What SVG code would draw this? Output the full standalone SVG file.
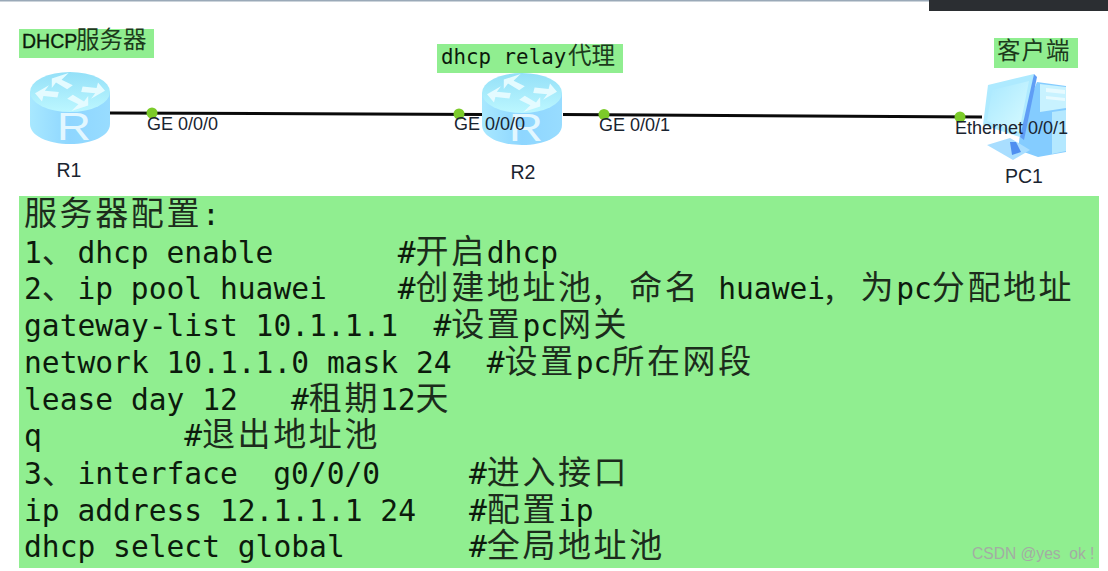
<svg xmlns="http://www.w3.org/2000/svg" width="1108" height="571" viewBox="0 0 1108 571">
<style>
.bg{fill:#90ee90}
text{white-space:pre}
.m{font-family:"DejaVu Sans Mono","Liberation Mono",monospace;font-size:29.6px;fill:#0c1a0c}
.c{font-family:"Noto Sans CJK SC","Noto Sans CJK TC",sans-serif;font-size:33px;letter-spacing:2.6px;fill:#1c2c1c}
.m2{font-family:"DejaVu Sans Mono","Liberation Mono",monospace;font-size:20.8px;fill:#0c1a0c}
.c2{font-family:"Noto Sans CJK SC",sans-serif;font-size:23.5px;fill:#1c3a1c}
.s2{font-family:"Liberation Sans",Arial,sans-serif;font-size:19.5px;fill:#0c1a0c;stroke:#0c1a0c;stroke-width:.3}
.port{font-family:"Liberation Sans",Arial,sans-serif;font-size:18px;fill:#1a2430}
.name{font-family:"Liberation Sans",Arial,sans-serif;font-size:19.5px;fill:#1a2430;text-anchor:middle}
.dot{fill:#7ccb2a}
.link{stroke:#0a0a0a;stroke-width:3;fill:none}
.rl{font-family:"Liberation Sans",Arial,sans-serif;font-size:38px;fill:#e2f7ff;text-anchor:middle}
.wm{font-family:"Liberation Sans",Arial,sans-serif;font-size:15.6px;fill:#a3aca3}
</style>
<defs>
<linearGradient id="body" x1="0" y1="0" x2="1" y2="0">
<stop offset="0" stop-color="#a8e8ff"/><stop offset="0.5" stop-color="#8ed6ff"/><stop offset="1" stop-color="#98dcff"/>
</linearGradient>
<linearGradient id="top" x1="0" y1="0" x2="0" y2="1">
<stop offset="0" stop-color="#94e0f8"/><stop offset="1" stop-color="#bcf7ff"/>
</linearGradient>
<linearGradient id="scr" x1="0" y1="0" x2="1" y2="1">
<stop offset="0" stop-color="#a8e8ff"/><stop offset="1" stop-color="#d8fbff"/>
</linearGradient>
<g id="router">
<path d="M0 20V52C0 64 18 72 40 72S80 64 80 52V20Z" fill="url(#body)"/>
<ellipse cx="40" cy="20" rx="40" ry="20" fill="url(#top)"/>
<g fill="#e4fbff" transform="translate(40 20) scale(1.4 1.35) translate(-40 -20)">
<path d="M27 10L39 6L34 11L42 15L38 18L30 13L27 17Z"/>
<path d="M53 30L41 34L46 29L38 25L42 22L50 27L53 23Z"/>
<path d="M15 21L20 27L21 23L31 24L32 20L22 19L25 15Z"/>
<path d="M65 19L60 13L59 17L49 16L48 20L58 21L55 25Z"/>
</g>
</g>
</defs>

<rect width="1108" height="571" fill="#ffffff"/>
<rect width="929" height="1.5" fill="#9aa9b8"/>
<rect x="929" width="179" height="11" fill="#2b2e32"/>

<g id="connectors">
<path class="link" d="M110 113L482 114.5"/>
<path class="link" d="M563 114.5L982 117"/>
</g>

<g id="R1">
<use href="#router" x="30" y="72"/>
<text class="rl" transform="translate(74 140) scale(1.25 1)">R</text>
<text class="name" x="69" y="177">R1</text>
</g>
<g id="R2">
<use href="#router" x="482" y="73"/>
<text class="rl" transform="translate(526 141) scale(1.25 1)">R</text>
<text class="name" x="523" y="179">R2</text>
</g>
<g id="PC1">
<path d="M1037 82L1066 86V152L1038 157L1018 150L1022 118Z" fill="#84ccff"/>
<path d="M1040 84L1066 87V108L1040 112Z" fill="#c8f2ff"/>
<path d="M1052 112L1066 110V151L1052 154Z" fill="#b4e8ff"/>
<path d="M1046 88L1065 90V94L1046 92ZM1046 96L1065 98V101L1046 99Z" fill="#e6faff"/>
<path d="M987 145L1010 138L1030 150L1013 160Z" fill="#a9deff"/>
<path d="M1010 142L1016 142L1021 152L1012 155Z" fill="#4f8ff0"/>
<path d="M988 85L1034 74L1028 115L1023 138L983 125Z" fill="#aeeaff"/>
<path d="M992 90L1029 81L1019 132L987 121Z" fill="url(#scr)"/>
<path d="M1034 74L1037 77L1024 140L1020 137Z" fill="#5f9df5"/>
<text class="name" x="1024" y="183">PC1</text>
</g>

<g id="ports">
<circle class="dot" cx="152" cy="113" r="5.5"/>
<circle class="dot" cx="459" cy="114" r="5.5"/>
<circle class="dot" cx="604" cy="114.500" r="5.5"/>
<circle class="dot" cx="960" cy="117" r="5.5"/>
<text class="port" x="147" y="130">GE 0/0/0</text>
<text class="port" x="454" y="130">GE 0/0/0</text>
<text class="port" x="599" y="131">GE 0/0/1</text>
<text class="port" x="955" y="134">Ethernet 0/0/1</text>
</g>

<g id="label-dhcp-server">
<rect class="bg" x="19" y="29" width="135" height="29"/>
<text x="22" y="48"><tspan class="s2">DHCP</tspan><tspan class="c2" x="76">服务器</tspan></text>
</g>
<g id="label-relay">
<rect class="bg" x="437" y="44" width="186" height="29"/>
<text x="441" y="64"><tspan class="m2">dhcp relay</tspan><tspan class="c2" x="568">代理</tspan></text>
</g>
<g id="label-client">
<rect class="bg" x="994" y="38" width="84" height="30"/>
<text class="c2" x="997" y="59" style="letter-spacing:1px">客户端</text>
</g>

<g id="config">
<rect class="bg" x="19" y="196" width="1080" height="372"/>
<text y="225"><tspan class="c" x="24">服务器配置</tspan><tspan class="m" x="202">:</tspan></text>
<text y="263"><tspan class="m" x="24">1</tspan><tspan class="c" x="41.800">、</tspan><tspan class="m" x="77.400">dhcp enable</tspan><tspan class="m" x="397.800">#</tspan><tspan class="c" x="415.600">开启</tspan><tspan class="m" x="486.800">dhcp</tspan></text>
<text y="299"><tspan class="m" x="24">2</tspan><tspan class="c" x="41.800">、</tspan><tspan class="m" x="77.400">ip pool huawei</tspan><tspan class="m" x="397.800">#</tspan><tspan class="c" x="415.600">创建地址池,</tspan><tspan class="c" x="629.200">命名</tspan><tspan class="m" x="718.200">huawei</tspan><tspan class="c" x="825">,</tspan><tspan class="c" x="860.600">为</tspan><tspan class="m" x="896.200">pc</tspan><tspan class="c" x="931.800">分配地址</tspan></text>
<text y="336"><tspan class="m" x="24">gateway-list 10.1.1.1</tspan><tspan class="m" x="433.400">#</tspan><tspan class="c" x="451.200">设置</tspan><tspan class="m" x="522.400">pc</tspan><tspan class="c" x="558">网关</tspan></text>
<text y="373"><tspan class="m" x="24">network 10.1.1.0 mask 24</tspan><tspan class="m" x="486.800">#</tspan><tspan class="c" x="504.600">设置</tspan><tspan class="m" x="575.800">pc</tspan><tspan class="c" x="611.400">所在网段</tspan></text>
<text y="410"><tspan class="m" x="24">lease day 12</tspan><tspan class="m" x="291">#</tspan><tspan class="c" x="308.800">租期</tspan><tspan class="m" x="380">12</tspan><tspan class="c" x="415.600">天</tspan></text>
<text y="446"><tspan class="m" x="24">q</tspan><tspan class="m" x="184.200">#</tspan><tspan class="c" x="202">退出地址池</tspan></text>
<text y="484"><tspan class="m" x="24">3</tspan><tspan class="c" x="41.800">、</tspan><tspan class="m" x="77.400">interface</tspan><tspan class="m" x="273.200">g0/0/0</tspan><tspan class="m" x="469">#</tspan><tspan class="c" x="486.800">进入接口</tspan></text>
<text y="521"><tspan class="m" x="24">ip address 12.1.1.1 24</tspan><tspan class="m" x="469">#</tspan><tspan class="c" x="486.800">配置</tspan><tspan class="m" x="558">ip</tspan></text>
<text y="557"><tspan class="m" x="24">dhcp select global</tspan><tspan class="m" x="469">#</tspan><tspan class="c" x="486.800">全局地址池</tspan></text>
</g>
<text class="wm" x="972" y="559">CSDN @yes  ok !</text>
</svg>
